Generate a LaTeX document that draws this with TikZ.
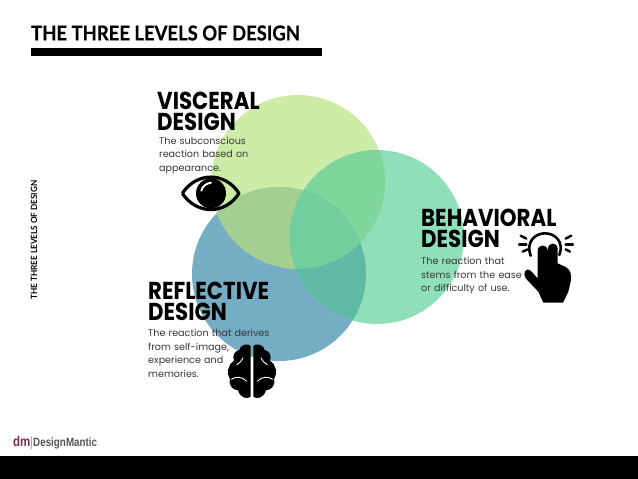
\documentclass[tikz,border=0pt]{standalone}
\usepackage{fontspec}
\setmainfont{Poppins}
\newfontfamily\headfont[FakeStretch=0.87]{Poppins}
\newfontfamily\titlefont[FakeStretch=0.9,FakeBold=0.4]{Lato}
\newfontfamily\sidefont[FakeStretch=0.95]{Lato}
\newfontfamily\logofont[FakeStretch=0.82]{Liberation Sans}
\usepackage{xcolor}
\usepackage{tikz}
\definecolor{visceralgreen}{HTML}{CDECA8}
\definecolor{reflectiveblue}{HTML}{74ADC4}
\definecolor{behavioralgreen}{HTML}{8FDFB9}
\definecolor{visRefl}{HTML}{A3CF90}
\definecolor{visBeh}{HTML}{7FD69C}
\definecolor{reflBeh}{HTML}{5FB9A5}
\definecolor{allThree}{HTML}{70CF9C}
\definecolor{logored}{HTML}{7A2A48}
\definecolor{logogray}{HTML}{555555}
\tikzstyle{venn} = [circle, minimum size=174pt, inner sep=0pt]
\tikzstyle{heading} = [font=\headfont\fontsize{24.5}{20.5}\selectfont\bfseries, text width=145pt, align=left, inner sep=0pt, anchor=north west]
\tikzstyle{bodytext} = [font=\fontsize{9.6}{13.5}\selectfont, text=black!78, text width=135pt, align=left, inner sep=0pt, anchor=north west]
\begin{document}
\begin{tikzpicture}[x=1pt, y=-1pt]
	\useasboundingbox (0,0) rectangle (638,479);
	\fill[white] (0,0) rectangle (638,479);
	% Place circles
	\node [venn, fill=visceralgreen] (visceralCircle) at (298,182) {};
	\node [venn, fill=reflectiveblue] (reflectiveCircle) at (279,274) {};
	\node [venn, fill=behavioralgreen] (behavioralCircle) at (377,237) {};
	% Overlaps
	\begin{scope}
		\clip (298,182) circle (87);
		\fill[visRefl] (279,274) circle (87);
		\fill[visBeh] (377,237) circle (87);
		\clip (279,274) circle (87);
		\fill[allThree] (377,237) circle (87);
	\end{scope}
	\begin{scope}
		\clip (279,274) circle (87);
		\clip (377,237) circle (87);
		\fill[reflBeh] (195,100) rectangle (470,400);
		\clip (298,182) circle (87);
		\fill[allThree] (195,100) rectangle (470,400);
	\end{scope}
	% Title and bars
	\node [font=\titlefont\fontsize{20.5}{20}\selectfont\bfseries, inner sep=0pt, anchor=west] (pageTitle) at (31,33) {THE THREE LEVELS OF DESIGN};
	\fill[black] (31,48) rectangle (322,55.5);
	\node [font=\sidefont\fontsize{8.6}{9}\selectfont\bfseries, rotate=90, inner sep=0pt] (sideTitle) at (34,240) {THE THREE LEVELS OF DESIGN};
	\fill[black] (0,456) rectangle (638,479);
	% Texts
	\node [heading] (visceralHead) at (157,92) {VISCERAL\\DESIGN};
	\node [bodytext] (visceralBody) at (159,136.5) {The subconscious\\reaction based on\\appearance.};
	\node [heading] (behavioralHead) at (421,209) {BEHAVIORAL\\DESIGN};
	\node [bodytext] (behavioralBody) at (421,257) {The reaction that\\stems from the ease\\or difficulty of use.};
	\node [heading] (reflectiveHead) at (148,282) {REFLECTIVE\\DESIGN};
	\node [bodytext] (reflectiveBody) at (148,329) {The reaction that derives\\from self-image,\\experience and\\memories.};
	% Logo
	\node [font=\logofont\fontsize{14}{14}\selectfont\bfseries, text=logored, inner sep=0pt, anchor=west] (logoMark) at (13,441) {dm};
	\node [font=\logofont\fontsize{12}{12}\selectfont\bfseries, text=logogray, inner sep=0pt, anchor=west] (logoName) at (33,443) {DesignMantic};
	\draw[logogray!50, line width=0.6pt] (31,436) -- (31,449);
	% Eye
	\begin{scope}[shift={(175,170)}, scale=1/3]
		\draw[line width=3.2pt, line join=round] (22,70) .. controls (65,5) and (150,5) .. (192,70) .. controls (150,135) and (65,135) .. (22,70);
		\fill[black] (108,70) circle (45);
		\draw[white, line width=1.9pt, line cap=round] (79,62) .. controls (82,50) and (93,40) .. (108,38);
	\end{scope}
	% Hand
	\begin{scope}[shift={(515,225)}, scale=1/3]
		\draw[line width=2.6pt, line cap=round] (47,92) .. controls (32,50) and (60,25) .. (90,25) .. controls (120,25) and (148,50) .. (133,90);
		\foreach \xa/\ya/\xb/\yb in {17/32/34/41, 12/58/34/58, 23/80/38/73, 152/41/169/32, 152/58/174/58, 152/73/165/80}
			\draw[line width=2.4pt, line cap=round] (\xa,\ya) -- (\xb,\yb);
		\fill[black] (68,78) .. controls (68,56) and (98,56) .. (98,78) -- (99,72) .. controls (100,50) and (128,50) .. (128,72) -- (128,115) -- (152,126) .. controls (168,135) and (170,150) .. (167,170) -- (160,200) -- (144,233) -- (85,233) -- (70,200) -- (32,160) .. controls (22,145) and (32,125) .. (48,138) -- (68,160) -- cycle;
	\end{scope}
	% Brain
	\begin{scope}[shift={(222,340)}, scale=1/3]
		\foreach \side in {1,-1} {
			\begin{scope}[shift={(90,0)}, xscale=\side]
				\fill[black] (-4,18) .. controls (-12,10) and (-32,10) .. (-38,30) .. controls (-52,32) and (-60,48) .. (-54,62) .. controls (-72,72) and (-78,100) .. (-66,118) .. controls (-72,140) and (-52,152) .. (-42,150) .. controls (-38,172) and (-14,180) .. (-4,170) -- cycle;
				\draw[white, line width=0.9pt, line cap=round] (-46,74) .. controls (-38,70) and (-30,62) .. (-27,54);
				\draw[white, line width=0.9pt, line cap=round] (-62,118) .. controls (-48,108) and (-28,110) .. (-16,124);
			\end{scope}
		}
	\end{scope}
\end{tikzpicture}
\end{document}
